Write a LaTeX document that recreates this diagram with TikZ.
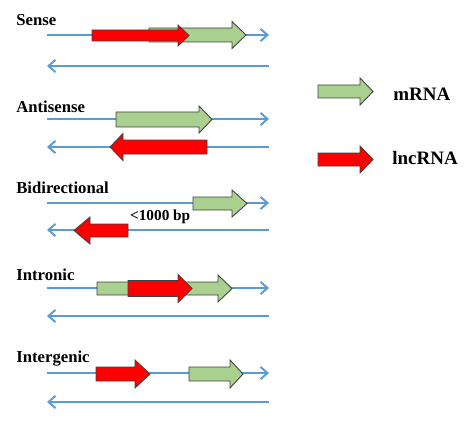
\documentclass[tikz,border=0pt]{standalone}
\usepackage{fontspec}
\setmainfont{Liberation Serif}
\usepackage{tikz}
\usetikzlibrary{arrows.meta}

\definecolor{strandblue}{RGB}{91,155,213}
\definecolor{mrnagreen}{RGB}{169,208,142}
\definecolor{lncred}{RGB}{255,0,0}

\begin{document}
\begin{tikzpicture}[x=0.2mm,y=-0.2mm,
    strand/.style={strandblue, line width=1.1pt, -{Straight Barb[length=4pt,width=7pt]}},
    mrna/.style={fill=mrnagreen, draw=black!75, line width=0.5pt},
    lnc/.style={fill=lncred, draw=black!75, line width=0.5pt},
    typelabel/.style={anchor=west, inner sep=0pt, font=\fontsize{9.5}{11}\selectfont\bfseries},
    legendlabel/.style={anchor=west, inner sep=0pt, font=\fontsize{10.8}{12}\selectfont\bfseries}]
                    \useasboundingbox (0,0) rectangle (474,425);
                    % sense
                    \node[typelabel] (sense) at (16,20) {Sense};
                    \draw[strand] (47,35) -- (269,35);
                    \draw[strand] (269,66) -- (47,66);
                    \draw[mrna] (149,28) -- (232,28) -- (232,21.5) -- (246,35) -- (232,48.5) -- (232,42) -- (149,42) -- cycle;
                    \draw[lnc] (92,30) -- (178,30) -- (178,25) -- (189,35.5) -- (178,46) -- (178,41) -- (92,41) -- cycle;
                    % antisense
                    \node[typelabel] (antisense) at (16,107) {Antisense};
                    \draw[strand] (47,119) -- (269,119);
                    \draw[strand] (269,147) -- (47,147);
                    \draw[mrna] (116,112) -- (199,112) -- (199,106) -- (212,119.5) -- (199,133) -- (199,127) -- (116,127) -- cycle;
                    \draw[lnc] (207,140) -- (123,140) -- (123,133.5) -- (110,147) -- (123,160.5) -- (123,154) -- (207,154) -- cycle;
                    % bidirectional
                    \node[typelabel] (bidirectional) at (16,188) {Bidirectional};
                    \draw[strand] (47,203) -- (269,203);
                    \draw[strand] (269,230) -- (47,230);
                    \draw[mrna] (193,197) -- (232,197) -- (232,190) -- (247,203.5) -- (232,217) -- (232,210) -- (193,210) -- cycle;
                    \draw[lnc] (128,224) -- (90,224) -- (90,217) -- (74,230.5) -- (90,244) -- (90,237) -- (128,237) -- cycle;
                    \node[anchor=west, inner sep=1pt, font=\fontsize{8.7}{10}\selectfont\bfseries] (gap) at (128,217) {<1000 bp};
                    % intronic
                    \node[typelabel] (intronic) at (16,275) {Intronic};
                    \draw[strand] (47,288) -- (269,288);
                    \draw[strand] (269,316) -- (47,316);
                    \draw[mrna] (97,282) -- (218,282) -- (218,275) -- (232,288.5) -- (218,302) -- (218,295) -- (97,295) -- cycle;
                    \draw[lnc] (128,280.5) -- (178,280.5) -- (178,274.5) -- (192,288.5) -- (178,302.5) -- (178,296.5) -- (128,296.5) -- cycle;
                    % intergenic
                    \node[typelabel] (intergenic) at (16,359) {Intergenic};
                    \draw[strand] (47,373) -- (269,373);
                    \draw[strand] (269,402) -- (47,402);
                    \draw[lnc] (96,367) -- (135,367) -- (135,360) -- (150,374) -- (135,388) -- (135,381) -- (96,381) -- cycle;
                    \draw[mrna] (189,367) -- (230,367) -- (230,360) -- (243,374) -- (230,388) -- (230,381) -- (189,381) -- cycle;
                    % legend
                    \draw[mrna] (318,85) -- (360,85) -- (360,78) -- (373,91.5) -- (360,105) -- (360,98) -- (318,98) -- cycle;
                    \node[legendlabel] (mrnakey) at (393,94) {mRNA};
                    \draw[lnc] (318,153) -- (360,153) -- (360,146) -- (373,159.5) -- (360,173) -- (360,166) -- (318,166) -- cycle;
                    \node[legendlabel] (lnckey) at (392,158) {lncRNA};
\end{tikzpicture}
\end{document}
